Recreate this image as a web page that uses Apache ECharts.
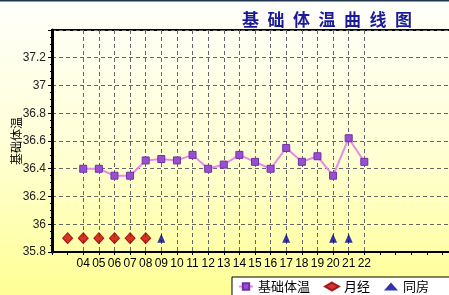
<!DOCTYPE html>
<html>
<head>
<meta charset="utf-8">
<script src="https://cdn.jsdelivr.net/npm/echarts@6/dist/echarts.min.js"></script>
<style>
html,body{margin:0;padding:0;}
#chart{width:449px;height:295px;}
</style>
</head>
<body>
<div id="chart"></div>
<script>
// categories (day numbers); only 04..22 are labelled in the reference
const days = ['02','03','04','05','06','07','08','09','10','11','12','13','14','15','16','17','18','19','20','21','22','23','24','25','26','27','28'];
const labelFrom = '04';
const labelTo = '22';
// basal body temperature
const bbt = ['-','-',36.40,36.40,36.35,36.35,36.46,36.47,36.46,36.50,36.40,36.43,36.50,36.45,36.40,36.55,36.45,36.49,36.35,36.62,36.45,'-','-','-','-','-','-'];
// menstruation markers (value 35.9 on marked days)
const menses = ['-',35.9,35.9,35.9,35.9,35.9,35.9,'-','-','-','-','-','-','-','-','-','-','-','-','-','-','-','-','-','-','-','-'];
// intercourse markers
const coitus = ['-','-','-','-','-','-','-',35.9,'-','-','-','-','-','-','-',35.9,'-','-',35.9,35.9,'-','-','-','-','-','-','-'];
const yTicks = {min: 35.8, max: 37.4, interval: 0.2};

const iFrom = days.indexOf(labelFrom), iTo = days.indexOf(labelTo);
const shown = (i) => i >= iFrom && i <= iTo;
const font = "'Liberation Sans', Arial, sans-serif";
const chart = echarts.init(document.getElementById('chart'));
chart.setOption({
  animation: false,
  backgroundColor: new echarts.graphic.LinearGradient(0, 0, 0, 1, [
    {offset: 0, color: '#fffffc'},
    {offset: 0.5, color: '#ffffd6'},
    {offset: 1, color: '#ffff96'}
  ]),
  title: {
    text: '基\u2002础\u2002体\u2002温\u2002曲\u2002线\u2002图',
    left: 237, top: 6,
    textStyle: {fontSize: 17, fontWeight: 'bold', color: '#1a1a9a', fontFamily: "'Noto Sans CJK SC'"}
  },
  graphic: [{type: 'rect', shape: {x: 0, y: 0, width: 449, height: 1.5}, style: {fill: '#1f3550'}}],
  grid: {left: 52, top: 30, right: -9, bottom: 43, show: true, borderColor: '#000', borderWidth: 2,
    backgroundColor: 'transparent', containLabel: false, outerBoundsMode: 'none'},
  legend: {
    right: -10, bottom: -6,
    backgroundColor: '#fff', borderColor: '#000', borderWidth: 1,
    padding: [3, 30, 8, 6], itemGap: 14, itemWidth: 14, itemHeight: 8,
    textStyle: {fontSize: 13, color: '#000', fontFamily: "'Noto Sans CJK SC'"},
    data: ['基础体温', '月经', '同房']
  },
  xAxis: {
    type: 'category', data: days, boundaryGap: false,
    axisLine: {lineStyle: {color: '#000', width: 2}},
    axisTick: {show: true, length: 3, interval: 0, lineStyle: {color: '#000'}},
    axisLabel: {interval: (i) => shown(i), color: '#000', fontSize: 12, margin: 6, fontFamily: font},
    splitLine: {show: true, interval: (i) => shown(i), lineStyle: {color: '#666', type: [4, 3], width: 1}}
  },
  yAxis: {
    type: 'value', min: yTicks.min, max: yTicks.max, interval: yTicks.interval,
    name: '基础体温', nameLocation: 'middle', nameGap: 30, nameRotate: 90, nameMoveOverlap: false,
    nameTextStyle: {fontSize: 12, color: '#000', fontFamily: "'Noto Sans CJK SC'"},
    axisLine: {show: true, lineStyle: {color: '#000', width: 3}},
    axisTick: {show: true, length: 4, lineStyle: {color: '#000'}},
    minorTick: {show: true, splitNumber: 4, length: 2, lineStyle: {color: '#000'}},
    axisLabel: {color: '#222', fontSize: 12, margin: 6, fontFamily: font,
      formatter: (v) => (Math.abs(v - yTicks.max) < 1e-6 ? '' : String(+v.toFixed(1)))},
    splitLine: {show: true, lineStyle: {color: '#666', type: [4, 3], width: 1}}
  },
  series: [
    {name: '基础体温', type: 'line', data: bbt, symbol: 'rect', symbolSize: 7,
      lineStyle: {color: '#e88ae8', width: 2},
      itemStyle: {color: '#9a4fd0', borderColor: '#7030a8', borderWidth: 1}},
    {name: '月经', type: 'scatter', data: menses, symbol: 'diamond', symbolSize: [10, 11],
      itemStyle: {color: '#cc0000', borderColor: '#880000', borderWidth: 1}},
    {name: '同房', type: 'scatter', data: coitus, symbol: 'triangle', symbolSize: [8, 9],
      itemStyle: {color: '#000099'}}
  ]
});
</script>
</body>
</html>
